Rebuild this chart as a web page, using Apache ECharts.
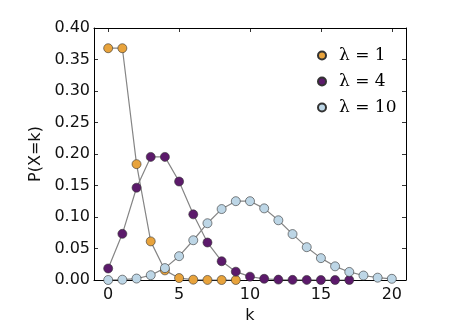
<!DOCTYPE html>
<html>
<head>
<meta charset="utf-8">
<script src="https://cdn.jsdelivr.net/npm/echarts@6/dist/echarts.min.js"></script>
<style>
  html, body { margin: 0; padding: 0; background: #fff; }
  #chart { width: 474px; height: 329px; }
</style>
</head>
<body>
<div id="chart"></div>
<script>
// Poisson probability mass P(X=k) for three rates
const kLambda1 = [0, 1, 2, 3, 4, 5, 6, 7, 8, 9];
const pLambda1 = [0.3679, 0.3679, 0.1839, 0.0613, 0.0153, 0.0031, 0.0005, 0.0001, 0.0000, 0.0000];

const kLambda4 = [0, 1, 2, 3, 4, 5, 6, 7, 8, 9, 10, 11, 12, 13, 14, 15, 16, 17];
const pLambda4 = [0.0183, 0.0733, 0.1465, 0.1954, 0.1954, 0.1563, 0.1042, 0.0595, 0.0298, 0.0132,
                  0.0053, 0.0019, 0.0006, 0.0002, 0.0001, 0.0000, 0.0000, 0.0000];

const kLambda10 = [0, 1, 2, 3, 4, 5, 6, 7, 8, 9, 10, 11, 12, 13, 14, 15, 16, 17, 18, 19, 20];
const pLambda10 = [0.0000, 0.0005, 0.0023, 0.0076, 0.0189, 0.0378, 0.0631, 0.0901, 0.1126, 0.1251,
                   0.1251, 0.1137, 0.0948, 0.0729, 0.0521, 0.0347, 0.0217, 0.0128, 0.0071, 0.0037, 0.0019];

const xTicks = [0, 5, 10, 15, 20];
const seriesNames = ['λ = 1', 'λ = 4', 'λ = 10'];

const colors = ['#e8a33c', '#5c1a6b', '#bdd6e6'];
const pair = (ks, ps) => ks.map((k, i) => [k, ps[i]]);

const chart = echarts.init(document.getElementById('chart'), null, { renderer: 'canvas' });

const tickStyle = { inside: true, length: 4, lineStyle: { color: '#000', width: 0.8 } };
const frameLine = { show: true, onZero: false, lineStyle: { color: '#000', width: 1 } };
const labelFont = { fontFamily: 'DejaVu Sans', fontSize: 16, color: '#111' };

function makeSeries(name, ks, ps, color) {
  return {
    name: name,
    type: 'line',
    data: pair(ks, ps),
    symbol: 'circle',
    symbolSize: 9,
    lineStyle: { color: '#858585', width: 1.2 },
    itemStyle: { color: color, borderColor: '#333', borderWidth: 0.6 },
    emphasis: { disabled: true },
    animation: false
  };
}

chart.setOption({
  backgroundColor: '#ffffff',
  grid: { left: 94, top: 28, right: 68, bottom: 49, containLabel: false },
  legend: {
    orient: 'vertical',
    left: 312,
    top: 42,
    itemWidth: 8,
    itemHeight: 8,
    itemGap: 9,
    icon: 'circle',
    data: seriesNames,
    textStyle: { fontFamily: 'DejaVu Serif', fontSize: 17, color: '#000', padding: [0, 0, 0, 8] }
  },
  xAxis: [
    {
      type: 'value', min: -1, max: 21,
      name: 'k', nameLocation: 'middle', nameGap: 27,
      nameTextStyle: labelFont,
      axisLine: frameLine,
      axisTick: Object.assign({ customValues: xTicks }, tickStyle),
      axisLabel: Object.assign({ customValues: xTicks, margin: 7 }, labelFont),
      splitLine: { show: false }
    },
    {
      type: 'value', min: -1, max: 21, position: 'top',
      axisLine: frameLine,
      axisTick: Object.assign({ customValues: xTicks }, tickStyle),
      axisLabel: { show: false },
      splitLine: { show: false }
    }
  ],
  yAxis: [
    {
      type: 'value', min: 0, max: 0.4, interval: 0.05,
      name: 'P(X=k)', nameLocation: 'middle', nameGap: 45, nameRotate: 90,
      nameTextStyle: labelFont,
      axisLine: frameLine,
      axisTick: tickStyle,
      axisLabel: Object.assign({ margin: 4, formatter: v => v.toFixed(2) }, labelFont),
      splitLine: { show: false }
    },
    {
      type: 'value', min: 0, max: 0.4, interval: 0.05, position: 'right',
      axisLine: frameLine,
      axisTick: tickStyle,
      axisLabel: { show: false },
      splitLine: { show: false }
    }
  ],
  series: [
    makeSeries(seriesNames[0], kLambda1, pLambda1, colors[0]),
    makeSeries(seriesNames[1], kLambda4, pLambda4, colors[1]),
    makeSeries(seriesNames[2], kLambda10, pLambda10, colors[2])
  ]
});
</script>
</body>
</html>
